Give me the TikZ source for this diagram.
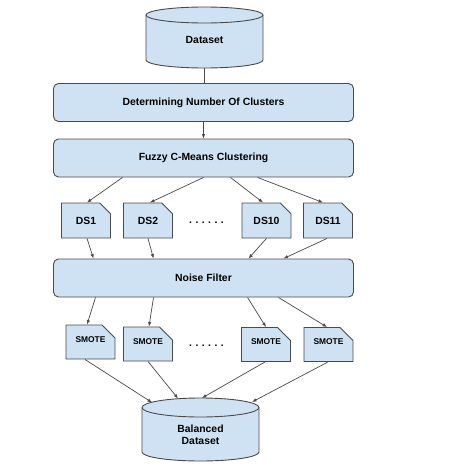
\documentclass[tikz,border=0pt]{standalone}
\usepackage{fontspec}
\setmainfont{Liberation Sans}
\usetikzlibrary{shapes.misc,arrows.meta,calc}
\definecolor{boxfill}{HTML}{CFE2F3}
\definecolor{edgec}{HTML}{4A4A4A}
\begin{document}
\begin{tikzpicture}[x=1pt,y=-1pt,
  procbox/.style={draw=edgec, fill=boxfill, line width=0.9pt, rounded corners=5pt,
    minimum width=300pt, minimum height=38pt, inner sep=0pt,
    font=\bfseries\fontsize{10.4}{12}\selectfont},
  docbox/.style={chamfered rectangle, chamfered rectangle corners=north east,
    chamfered rectangle xsep=7pt, chamfered rectangle ysep=7pt,
    draw=edgec, fill=boxfill, line width=0.9pt, minimum width=49pt, minimum height=35pt,
    inner sep=0pt, font=\bfseries\fontsize{10.4}{12}\selectfont},
  smotebox/.style={docbox, minimum height=34pt, font=\bfseries\fontsize{8.4}{10}\selectfont,
    text height=6pt, text depth=6pt},
  conn/.style={draw=edgec, line width=0.7pt, -{Latex[length=4.5pt,width=3.5pt]}},
  plainconn/.style={draw=edgec, line width=0.7pt},
  cyl/.style={draw=edgec, fill=boxfill, line width=0.9pt},
  lbl/.style={font=\bfseries\fontsize{10.4}{12}\selectfont, align=center, inner sep=0pt},
  dots/.style={font=\bfseries\fontsize{10.4}{12}\selectfont, inner sep=0pt}
]
\useasboundingbox (0,0) rectangle (474,474);

% Dataset cylinder
\path[cyl] (146,15) -- (146,60) arc[start angle=180, end angle=360, x radius=58.5pt, y radius=8pt]
  -- (263,15) arc[start angle=0, end angle=180, x radius=58.5pt, y radius=8pt] -- cycle;
\draw[edgec, line width=0.9pt] (146,15) arc[start angle=180, end angle=360, x radius=58.5pt, y radius=8pt];
\node[lbl] (data) at (204.5,40) {Dataset};
\coordinate (datab) at (204.5,68);

% process boxes
\node[procbox] (dnc) at (203.5,102.5) {Determining Number Of Clusters};
\node[procbox] (fcm) at (203.5,158) {Fuzzy C-Means Clustering};
\node[procbox] (nf) at (203.5,278) {Noise Filter};

% DS boxes
\node[docbox] (ds1) at (86,220.5) {DS1};
\node[docbox] (ds2) at (148,220.5) {DS2};
\node[dots] (dA) at (206.5,223) {.\,\,.\,\,.\,\,.\,\,.\,\,.};
\node[docbox] (ds10) at (266.5,220.5) {DS10};
\node[docbox] (ds11) at (328,220.5) {DS11};

% SMOTE boxes
\node[smotebox] (s1) at (90.5,342) {SMOTE};
\node[smotebox] (s2) at (148,344) {SMOTE};
\node[dots] (dB) at (206.5,346) {.\,\,.\,\,.\,\,.\,\,.\,\,.};
\node[smotebox] (s3) at (266,344.5) {SMOTE};
\node[smotebox] (s4) at (328.5,344.5) {SMOTE};

% Balanced dataset cylinder
\path[cyl] (142,407.5) -- (142,452) arc[start angle=180, end angle=360, x radius=58.5pt, y radius=9pt]
  -- (259,407.5) arc[start angle=0, end angle=180, x radius=58.5pt, y radius=9.5pt] -- cycle;
\draw[edgec, line width=0.9pt] (142,407.5) arc[start angle=180, end angle=360, x radius=58.5pt, y radius=9.5pt];
\node[lbl] (bal) at (200.5,435) {Balanced\\Dataset};
\coordinate (balA) at (152,402.5);
\coordinate (balB) at (178,398.5);
\coordinate (balC) at (202,398);
\coordinate (balD) at (252,402);

% connectors
\draw[plainconn] (datab) -- (datab |- dnc.north);
\draw[conn] (dnc.south) -- (fcm.north);

\draw[conn] ([xshift=-81pt]fcm.south) -- ([xshift=1pt]ds1.north);
\draw[conn] (fcm.south) -- ([xshift=2pt]ds2.north);
\draw[conn] ([xshift=27pt]fcm.south) -- ([xshift=-3.5pt]ds10.north);
\draw[conn] ([xshift=54pt]fcm.south) -- ([xshift=-5pt]ds11.north);

\draw[conn] ([xshift=1pt]ds1.south) -- ([xshift=-110pt]nf.north);
\draw[conn] (ds2.south) -- ([xshift=-50pt]nf.north);
\draw[conn] (ds10.south) -- ([xshift=45pt]nf.north);
\draw[conn] ([xshift=-1pt]ds11.south) -- ([xshift=80pt]nf.north);

\draw[conn] ([xshift=-108pt]nf.south) -- ([xshift=-3.5pt]s1.north);
\draw[conn] ([xshift=-50pt]nf.south) -- ([xshift=1pt]s2.north);
\draw[conn] ([xshift=44pt]nf.south) -- (s3.north);
\draw[conn] ([xshift=75pt]nf.south) -- ([xshift=-1.5pt]s4.north);

\draw[conn] ([xshift=-5.5pt]s1.south) -- (balA);
\draw[conn] (s2.south) -- (balB);
\draw[conn] ([xshift=-1pt]s3.south) -- (balC);
\draw[conn] ([xshift=-0.5pt]s4.south) -- (balD);
\end{tikzpicture}
\end{document}
